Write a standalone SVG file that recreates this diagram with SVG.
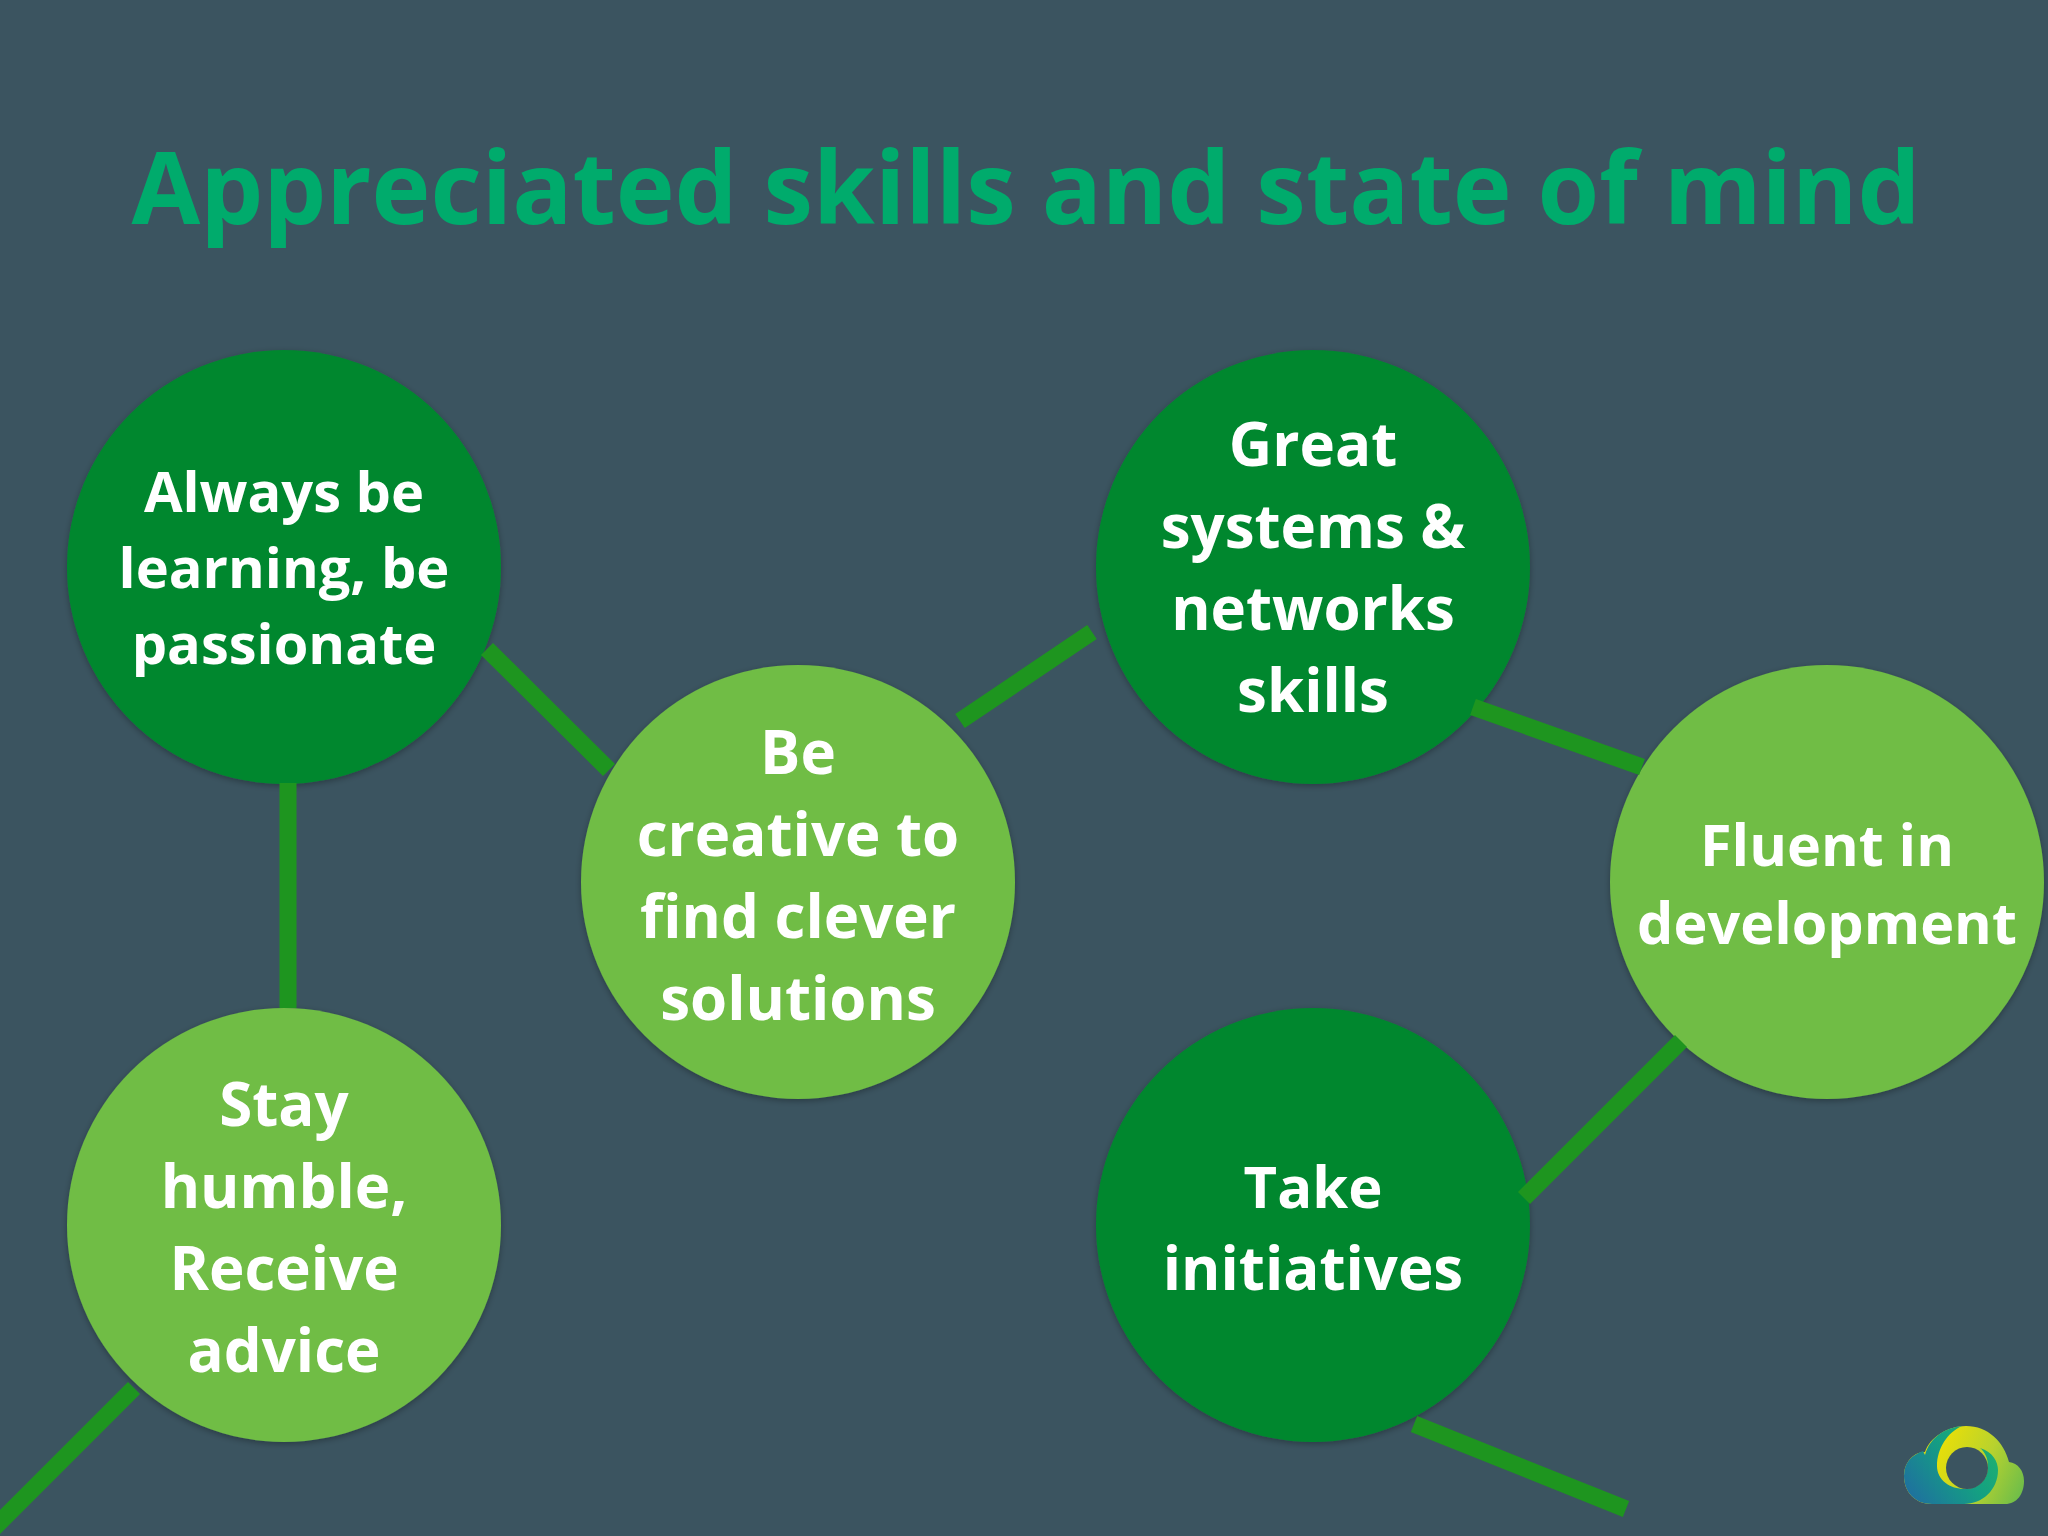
<svg xmlns="http://www.w3.org/2000/svg" width="2048" height="1536" viewBox="0 0 2048 1536">
<style>
text{font-family:"Open Sans","Noto Sans","Liberation Sans",sans-serif;font-weight:700;text-anchor:middle}
.t{fill:#fff;font-size:60px}
.s{font-size:56px}
.m{font-size:57.5px}
.d{fill:#05872f}.l{fill:#70bd45}
.c{stroke:#1e951f;stroke-width:17;fill:none}
</style>
<defs>
<filter id="s" x="-10%" y="-10%" width="120%" height="120%"><feDropShadow dx="0" dy="2" stdDeviation="3" flood-color="#000" flood-opacity=".3"/></filter>
<linearGradient id="g1" gradientUnits="userSpaceOnUse" x1="1910" y1="1500" x2="1990" y2="1440"><stop offset="0" stop-color="#1f6fa0"/><stop offset=".6" stop-color="#14a082"/><stop offset="1" stop-color="#1fb070"/></linearGradient>
<linearGradient id="g2" gradientUnits="userSpaceOnUse" x1="1940" y1="1450" x2="2025" y2="1490"><stop offset="0" stop-color="#e6de0a"/><stop offset=".5" stop-color="#b8d22e"/><stop offset="1" stop-color="#6cbd4a"/></linearGradient>
</defs>
<rect width="2048" height="1536" fill="#3b5460"/>
<text id="title" x="1026" y="224" font-size="99.7" fill="#00ab6c">Appreciated skills and state of mind</text>
<g id="n1"><circle class="d" cx="284" cy="567" r="217" filter="url(#s)"/>
<text class="t s" x="284" y="512">Always be</text><text class="t s" x="284" y="588">learning, be</text><text class="t s" x="284" y="664">passionate</text></g>
<g id="n2"><circle class="l" cx="798" cy="882" r="217" filter="url(#s)"/>
<text class="t" x="798" y="774">Be</text><text class="t" x="798" y="856">creative to</text><text class="t" x="798" y="938">find clever</text><text class="t" x="798" y="1020">solutions</text></g>
<g id="n3"><circle class="d" cx="1313" cy="567" r="217" filter="url(#s)"/>
<text class="t" x="1313" y="466">Great</text><text class="t" x="1313" y="548">systems &amp;</text><text class="t" x="1313" y="630">networks</text><text class="t" x="1313" y="712">skills</text></g>
<g id="n4"><circle class="l" cx="1827" cy="882" r="217" filter="url(#s)"/>
<text class="t m" x="1827" y="866">Fluent in</text><text class="t m" x="1827" y="944">development</text></g>
<g id="n5"><circle class="l" cx="284" cy="1225" r="217" filter="url(#s)"/>
<text class="t" x="284" y="1126">Stay</text><text class="t" x="284" y="1208">humble,</text><text class="t" x="284" y="1290">Receive</text><text class="t" x="284" y="1372">advice</text></g>
<g id="n6"><circle class="d" cx="1313" cy="1225" r="217" filter="url(#s)"/>
<text class="t" x="1313" y="1208" style="font-size:58px">Take</text><text class="t" x="1313" y="1290">initiatives</text></g>
<g id="connectors" class="conn">
<line class="c" x1="487" y1="649" x2="609" y2="770"/>
<line class="c" x1="288" y1="783" x2="288" y2="1008"/>
<line class="c" x1="960" y1="721" x2="1092" y2="632"/>
<line class="c" x1="1473" y1="707" x2="1642" y2="767"/>
<line class="c" x1="1681" y1="1041" x2="1524" y2="1198"/>
<line class="c" x1="1414" y1="1424" x2="1626" y2="1509"/>
<line class="c" x1="134" y1="1388" x2="-15" y2="1537"/>
</g>
<g id="logo">
<path d="M1932 1504H2005C2017 1504 2024 1494 2024 1481C2024 1471 2018 1463 2009 1462C2004 1442 1988 1426 1966 1426C1948 1426 1930 1437 1925 1452C1912 1452 1904 1464 1904 1476C1904 1492 1915 1504 1932 1504Z" fill="url(#g2)"/>
<path d="M1932 1504C1915 1504 1904 1492 1904 1476C1904 1462 1912 1455 1923 1451L1925 1455C1930 1437 1945 1428 1962 1426C1948 1432 1937 1448 1937 1466C1937 1480 1950 1489 1965 1489L1965 1504Z" fill="url(#g1)"/>
<path d="M1980 1448C1993 1452 1998 1462 1998 1470C1998 1490 1982 1504 1964 1504L1940 1504L1965 1489C1980 1489 1988 1478 1988 1467C1988 1458 1985 1452 1980 1448Z" fill="url(#g1)"/>
<circle cx="1967" cy="1468" r="21" fill="#3b5460"/>
</g>
</svg>
